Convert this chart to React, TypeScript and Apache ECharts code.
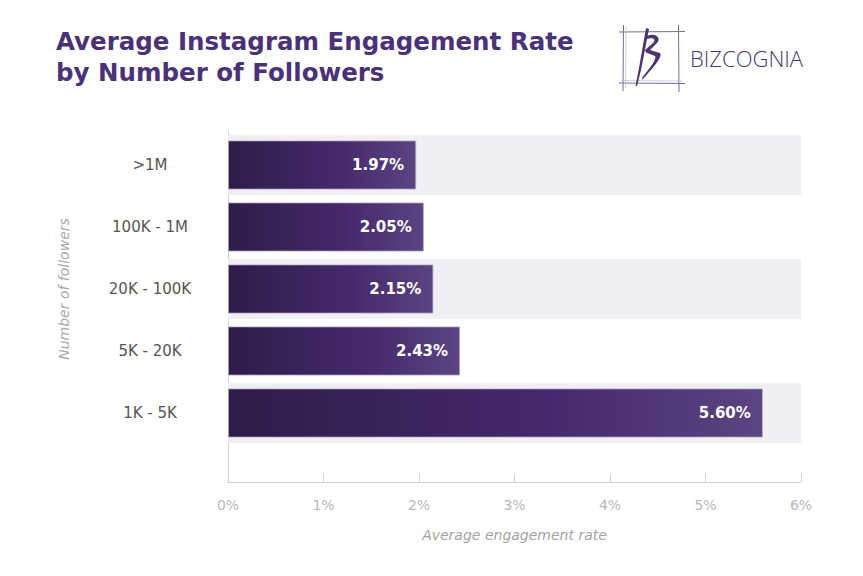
import React, { useEffect, useRef } from "react";
import * as echarts from "echarts";

const categories = [">1M", "100K - 1M", "20K - 100K", "5K - 20K", "1K - 5K"];
const values = [1.97, 2.05, 2.15, 2.43, 5.6];
const xTicks = [0, 1, 2, 3, 4, 5, 6];
const titleLines = ["Average Instagram Engagement Rate", "by Number of Followers"];

const logoD =
  "M646 28 L649 29 L641 70 L637 86 L635.5 86 L639 68 Z " +
  "M647 36 C655 32 663 38 656 44 L650 50 L660 53 C663 56 655 66 642 80 L642.5 77 C652 66 657 58 655 56 L646 52.5 L645 50 L653 43 C657 39 652 37 647 39 Z";

echarts.graphic.registerShape("logo", (echarts.graphic as any).extendPath(logoD, {}));

const FONT = "DejaVu Sans";

export default function App() {
  const ref = useRef<HTMLDivElement>(null);
  useEffect(() => {
    document.body.style.margin = "0";
    if (!ref.current) return;
    const chart = echarts.init(ref.current, undefined, { renderer: "svg" });
    const axisMax = xTicks[xTicks.length - 1];
    const stripes = categories.map((_, i) => (i % 2 === 0 ? axisMax : "-"));
    const lineColor = "#d2d2d2";
    const logoColor = "#4b3470";
    const sq = "#7a6a98";
    chart.setOption({
      animation: false,
      backgroundColor: "#ffffff",
      title: {
        text: titleLines.join("\n"),
        left: 51,
        top: 21,
        textStyle: {
          fontFamily: FONT,
          fontSize: 24.5,
          fontWeight: "bold",
          color: "#4b3177",
          lineHeight: 31,
        },
      },
      grid: [
        { left: 228, top: 134, width: 573, height: 310 },
        { left: 228, top: 131, width: 573, height: 351 },
      ],
      xAxis: [
        { gridIndex: 0, type: "value", min: 0, max: axisMax, show: false },
        {
          gridIndex: 1,
          type: "value",
          min: 0,
          max: axisMax,
          interval: 1,
          axisLine: { show: true, lineStyle: { color: lineColor, width: 1 } },
          axisTick: { show: true, inside: true, length: 9, lineStyle: { color: lineColor } },
          splitLine: { show: false },
          axisLabel: {
            formatter: "{value}%",
            color: "#b8b8b8",
            fontFamily: FONT,
            fontSize: 14,
            margin: 16,
          },
          name: "Average engagement rate",
          nameLocation: "middle",
          nameGap: 46,
          nameTextStyle: {
            color: "#a3a3a3",
            fontStyle: "italic",
            fontFamily: FONT,
            fontSize: 14,
          },
        },
      ],
      yAxis: [
        {
          gridIndex: 0,
          type: "category",
          data: categories,
          inverse: true,
          axisLine: { show: false },
          axisTick: { show: false },
          axisLabel: {
            align: "center",
            margin: 78,
            color: "#555555",
            fontFamily: FONT,
            fontSize: 15,
          },
          name: "Number of followers",
          nameLocation: "middle",
          nameGap: 157,
          nameRotate: 90,
          nameTextStyle: {
            color: "#a8a8a8",
            fontStyle: "italic",
            fontFamily: FONT,
            fontSize: 14,
          },
        },
        {
          gridIndex: 1,
          type: "value",
          axisLine: { show: true, lineStyle: { color: lineColor, width: 1 } },
          axisLabel: { show: false },
          axisTick: { show: false },
          splitLine: { show: false },
        },
        {
          gridIndex: 0,
          type: "category",
          data: categories,
          inverse: true,
          show: false,
        },
      ],
      series: [
        {
          type: "bar",
          xAxisIndex: 0,
          yAxisIndex: 2,
          data: stripes,
          barWidth: 60,
          silent: true,
          itemStyle: { color: "#f1eff4" },
          z: 1,
        },
        {
          type: "bar",
          xAxisIndex: 0,
          yAxisIndex: 0,
          data: values,
          barWidth: 49,
          z: 2,
          itemStyle: {
            color: new echarts.graphic.LinearGradient(0, 0, 1, 0, [
              { offset: 0, color: "#2f1c49" },
              { offset: 0.6, color: "#45296c" },
              { offset: 1, color: "#5b4482" },
            ]),
            borderColor: "#b7abc9",
            borderWidth: 0.8,
          },
          label: {
            show: true,
            position: "insideRight",
            distance: 12,
            formatter: (p: any) => p.value.toFixed(2) + "%",
            color: "#ffffff",
            fontFamily: FONT,
            fontWeight: "bold",
            fontSize: 15,
          },
        },
      ],
      graphic: [
        { type: "line", shape: { x1: 619, y1: 32, x2: 685, y2: 31.5 }, style: { stroke: sq, lineWidth: 1 } },
        { type: "line", shape: { x1: 619, y1: 83, x2: 685, y2: 83.5 }, style: { stroke: sq, lineWidth: 1 } },
        { type: "line", shape: { x1: 623.5, y1: 25, x2: 623, y2: 91 }, style: { stroke: sq, lineWidth: 1 } },
        { type: "line", shape: { x1: 678.5, y1: 25, x2: 679, y2: 92 }, style: { stroke: sq, lineWidth: 1 } },
        { type: "line", shape: { x1: 626, y1: 27, x2: 625.5, y2: 88 }, style: { stroke: "#c7bfd4", lineWidth: 0.8 } },
        { type: "line", shape: { x1: 621, y1: 80.5, x2: 682, y2: 81 }, style: { stroke: "#c7bfd4", lineWidth: 0.8 } },
        { type: "logo", x: 0, y: 0, style: { fill: logoColor } },
        {
          type: "text",
          x: 690,
          y: 58,
          style: {
            text: "BIZCOGNIA",
            fill: logoColor,
            font: "300 22px 'Open Sans'",
            textVerticalAlign: "middle",
          },
        },
      ],
    });
    return () => chart.dispose();
  }, []);
  return <div ref={ref} style={{ width: 863, height: 576 }} />;
}
